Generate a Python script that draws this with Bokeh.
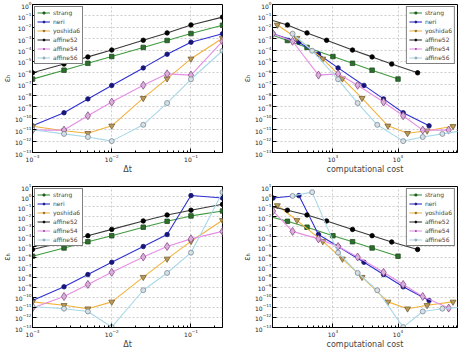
import math
from bokeh.plotting import figure
from bokeh.layouts import gridplot
from bokeh.models import Range1d, FixedTicker, Legend, LegendItem
from bokeh.embed import file_html
from bokeh.resources import INLINE

# time steps
dt = [0.001, 0.0025, 0.005, 0.01, 0.025, 0.05, 0.1, 0.25, 0.5]

# computational cost per method (same order as dt)
cost_strang = [10000, 4000, 2000, 1000, 400, 200, 100, 40, 20]
cost_neri = [30000, 12000, 6000, 3000, 1200, 600, 300, 120, 60]
cost_yoshida6 = [70000, 28000, 14000, 7000, 2800, 1400, 700, 280, 140]
cost_affine52 = [20000, 8000, 4000, 2000, 800, 400, 200, 80, 40]
cost_affine54 = [60000, 24000, 12000, 6000, 2400, 1200, 600, 240, 120]
cost_affine56 = [120000, 48000, 24000, 12000, 4800, 2400, 1200, 480, 240]

# errors, first problem (top row)
top_strang = [2.8e-7, 1.7e-6, 6.8e-6, 2.7e-5, 1.7e-4, 6.9e-4, 2.8e-3, 1.5e-2, 6.3e-2]
top_neri = [2.2e-11, 3.1e-10, 5.1e-9, 7.8e-8, 2.7e-6, 4.3e-5, 4.9e-4, 2.7e-3, 1.6e-2]
top_yoshida6 = [2.0e-11, 8.1e-12, 4.9e-12, 2.2e-11, 5.9e-9, 3.1e-7, 1.7e-5, 1.1e-3, 1.6e-2]
top_affine52 = [1.0e-6, 5.9e-6, 2.5e-5, 1.0e-4, 7.2e-4, 3.2e-3, 1.6e-2, 7.8e-2, 3.2e-1]
top_affine54 = [9.3e-12, 9.3e-12, 1.7e-10, 2.7e-9, 8.1e-8, 8.1e-7, 6.3e-7, 5.9e-4, 2.7e-3]
top_affine56 = [1.0e-11, 4.3e-12, 2.3e-12, 1.0e-12, 2.7e-11, 2.2e-9, 2.7e-7, 8.7e-5, 2.7e-3]

# errors, second problem (bottom row)
bot_strang = [1.2e-6, 7.9e-6, 3.3e-5, 1.3e-4, 9.1e-4, 3.5e-3, 1.2e-2, 3.7e-2, 1.3e-1]
bot_neri = [4.7e-11, 1.1e-9, 1.8e-8, 3.0e-7, 1.1e-5, 1.7e-4, 1.26, 0.71, 1.6]
bot_yoshida6 = [3.5e-11, 1.6e-11, 7.4e-12, 3.5e-11, 1.0e-8, 6.5e-7, 3.6e-5, 4.4e-3, 1.3e-1]
bot_affine52 = [5.6e-6, 3.1e-5, 1.3e-4, 5.5e-4, 3.8e-3, 1.5e-2, 4.4e-2, 1.7e-1, 6.3e-1]
bot_affine54 = [8.5e-12, 1.2e-10, 1.9e-9, 3.0e-8, 1.0e-6, 1.1e-5, 6.3e-5, 3.5e-4, 3.7e-2]
bot_affine56 = [1.2e-11, 7.4e-12, 3.9e-12, 1.1e-13, 5.0e-10, 2.6e-8, 2.7e-6, 2.75, 1.17]

methods = ["strang", "neri", "yoshida6", "affine52", "affine54", "affine56"]
costs = {"strang": cost_strang, "neri": cost_neri, "yoshida6": cost_yoshida6,
         "affine52": cost_affine52, "affine54": cost_affine54, "affine56": cost_affine56}
top_err = {"strang": top_strang, "neri": top_neri, "yoshida6": top_yoshida6,
           "affine52": top_affine52, "affine54": top_affine54, "affine56": top_affine56}
bot_err = {"strang": bot_strang, "neri": bot_neri, "yoshida6": bot_yoshida6,
           "affine52": bot_affine52, "affine54": bot_affine54, "affine56": bot_affine56}

styles = {
    "strang": dict(line="#3f9a3f", marker="square", fill="#2e6e2e", edge="#1f4f1f", size=4.5),
    "neri": dict(line="#3030d0", marker="circle", fill="#15157a", edge="#15157a", size=4.5),
    "yoshida6": dict(line="#f2b23c", marker="inverted_triangle", fill="#b89a5c", edge="#7a6030", size=6),
    "affine52": dict(line="#3a3a3a", marker="circle", fill="#000000", edge="#000000", size=4.5),
    "affine54": dict(line="#e58ee5", marker="diamond", fill="#dab0da", edge="#8a4a8a", size=8),
    "affine56": dict(line="#a8d8e8", marker="circle", fill="#d8e0e6", edge="#7a8a98", size=5),
}

FONT = "DejaVu Sans"


def make_fig(xdata, errs, xlab, xr, yr, ytop, width, height, borders, legend_loc):
    p = figure(width=width, height=height, x_axis_type="log", y_axis_type="log",
               x_range=Range1d(*xr), y_range=Range1d(*yr),
               output_backend="svg", toolbar_location=None,
               min_border_left=borders[0], min_border_right=borders[1],
               min_border_top=borders[2], min_border_bottom=borders[3])
    p.background_fill_color = "white"
    p.border_fill_color = "white"
    p.outline_line_color = "black"
    p.outline_line_width = 1
    items = []
    for m in methods:
        s = styles[m]
        xs = xdata[m]
        ys = errs[m]
        r1 = p.line(xs, ys, line_color=s["line"], line_width=1.1)
        r2 = p.scatter(xs, ys, marker=s["marker"], size=s["size"], fill_color=s["fill"],
                       line_color=s["edge"], line_width=0.8)
        items.append(LegendItem(label=m, renderers=[r1, r2]))
    leg = Legend(items=items, location=legend_loc, label_text_font_size="6px",
                 label_text_font=FONT, label_height=5, glyph_height=5, glyph_width=13,
                 spacing=2, padding=2, margin=2, label_standoff=3,
                 border_line_color="black", border_line_width=1,
                 background_fill_alpha=1.0)
    p.add_layout(leg, "center")

    lo, hi = xr
    e0 = math.floor(math.log10(lo))
    e1 = math.ceil(math.log10(hi))
    majors = [10.0 ** k for k in range(e0, e1 + 1)]
    minors = [j * 10.0 ** k for k in range(e0, e1 + 1) for j in range(2, 10)]
    p.xaxis.ticker = FixedTicker(ticks=majors, minor_ticks=minors)
    p.yaxis.ticker = FixedTicker(ticks=[10.0 ** k for k in range(-13, ytop + 1)], minor_ticks=[])

    for ax in (p.xaxis, p.yaxis):
        ax.major_tick_in = 4
        ax.major_tick_out = 0
        ax.minor_tick_in = 2
        ax.minor_tick_out = 0
        ax.axis_line_color = "black"
        ax.major_label_text_font_size = "6px"
        ax.major_label_text_font = FONT
        ax.major_label_text_color = "#222222"
        ax.axis_label_text_font = FONT
        ax.axis_label_text_font_style = "normal"
        ax.axis_label_text_font_size = "8px"
        ax.axis_label_standoff = 0
        ax.major_label_standoff = 1
    p.xaxis.axis_label = xlab
    p.yaxis.axis_label = "εₕ"
    p.xgrid.grid_line_color = "#c0c0c0"
    p.ygrid.grid_line_color = "#c0c0c0"
    p.xgrid.grid_line_dash = "2 2"
    p.ygrid.grid_line_dash = "2 2"
    p.xgrid.grid_line_width = 0.8
    p.ygrid.grid_line_width = 0.8
    return p


dts = {m: dt for m in methods}
LW, RW = 240, 218
TH, BH = 176, 175
p1 = make_fig(dts, top_err, "Δt", (0.001, 0.25), (1e-13, 1.0), 0, LW, TH, (26, 18, 4, 18), "top_left")
p2 = make_fig(costs, top_err, "computational cost", (118, 82000), (1e-13, 1.0), 0, RW, TH, (26, 1, 4, 18), "top_right")
p3 = make_fig(dts, bot_err, "Δt", (0.001, 0.25), (1e-13, 10.0), 1, LW, BH, (26, 18, 10, 18), "top_left")
p4 = make_fig(costs, bot_err, "computational cost", (118, 82000), (1e-13, 10.0), 1, RW, BH, (26, 1, 10, 18), "top_right")

grid = gridplot([[p1, p2], [p3, p4]], toolbar_location=None)

open("out.html", "w").write(file_html(grid, INLINE))
